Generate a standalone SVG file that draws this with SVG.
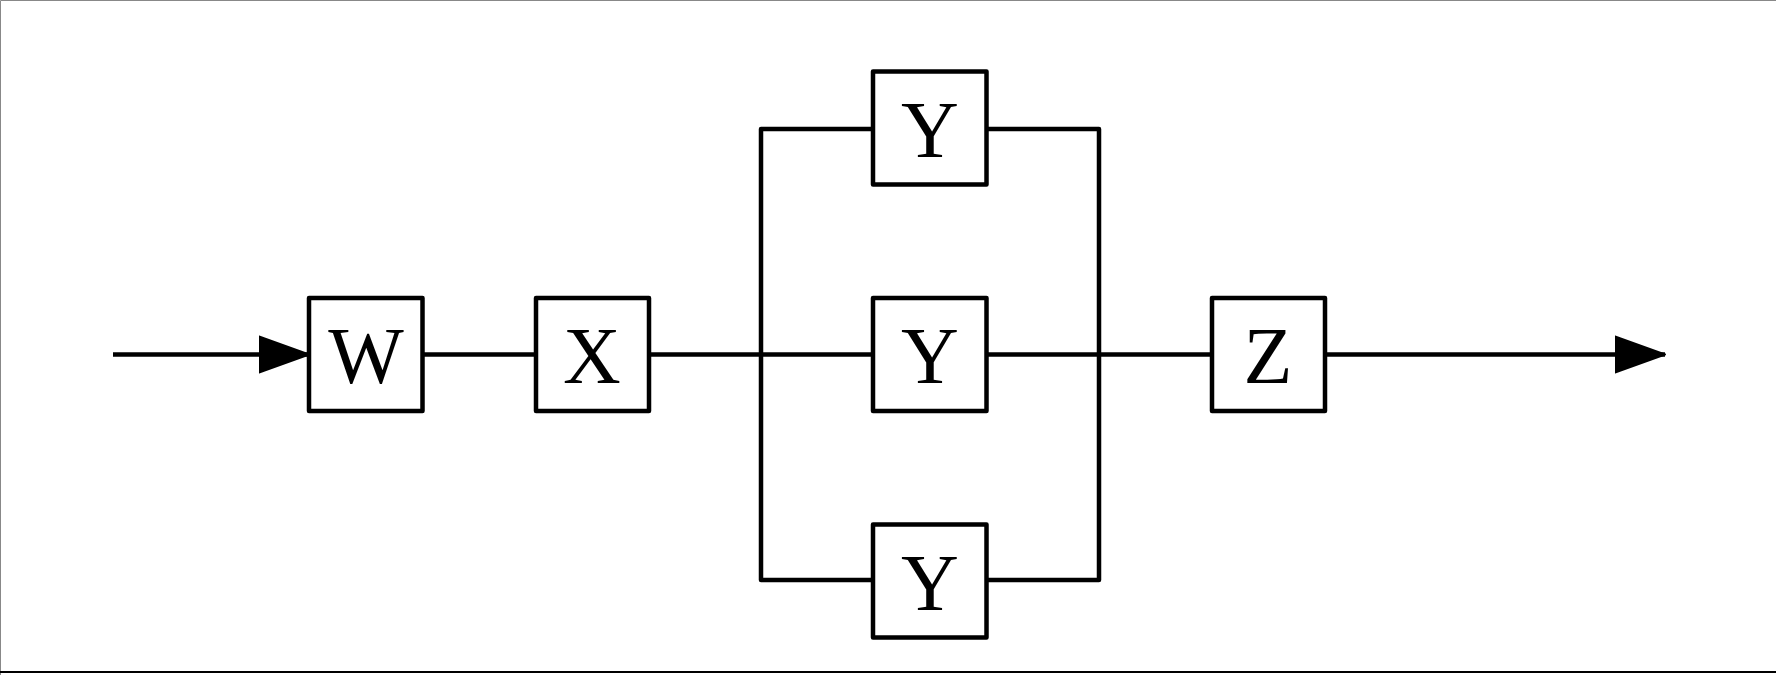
<svg xmlns="http://www.w3.org/2000/svg" width="1776" height="675" viewBox="0 0 1776 675">
<style>
.b{fill:#fff;stroke:#000;stroke-width:4.5;stroke-linejoin:round}
.l{fill:none;stroke:#000;stroke-width:4.5;stroke-linejoin:round}
.t{font-family:"Liberation Serif",serif;font-size:80px;text-anchor:middle;fill:#000}
</style>
<defs>
<marker id="a" markerUnits="userSpaceOnUse" markerWidth="52" markerHeight="40" refX="50" refY="20" orient="auto">
<path d="M0,2 L50,20 L0,38 Z" fill="#000" stroke="#000" stroke-width="2" stroke-linejoin="round"/>
</marker>
</defs>
<rect x="0" y="0" width="1776" height="675" fill="#fff"/>
<path d="M0.5,675 V0.5 H1776" fill="none" stroke="#888" stroke-width="1"/>
<line x1="0" y1="672" x2="1776" y2="672" stroke="#000" stroke-width="2"/>
<g id="connectors">
<line class="l" x1="113" y1="354.5" x2="309" y2="354.5" marker-end="url(#a)"/>
<line class="l" x1="422.5" y1="354.5" x2="536" y2="354.5"/>
<line class="l" x1="649" y1="354.5" x2="873" y2="354.5"/>
<path class="l" d="M873,129 H761 V580 H873"/>
<path class="l" d="M987,129 H1099 V580 H987"/>
<line class="l" x1="987" y1="354.5" x2="1212" y2="354.5"/>
<line class="l" x1="1325" y1="354.5" x2="1665" y2="354.5" marker-end="url(#a)"/>
</g>
<g id="W"><rect class="b" x="309" y="298" width="113.5" height="113"/><text class="t" x="366" y="383">W</text></g>
<g id="X"><rect class="b" x="536" y="298" width="113" height="113"/><text class="t" x="592" y="383">X</text></g>
<g id="Y1"><rect class="b" x="873" y="71.5" width="113.5" height="113"/><text class="t" x="930" y="157">Y</text></g>
<g id="Y2"><rect class="b" x="873" y="298" width="113.5" height="113"/><text class="t" x="930" y="383">Y</text></g>
<g id="Y3"><rect class="b" x="873" y="524.5" width="113.5" height="113"/><text class="t" x="930" y="610">Y</text></g>
<g id="Z"><rect class="b" x="1212" y="298" width="113" height="113"/><text class="t" x="1268" y="383">Z</text></g>
</svg>
